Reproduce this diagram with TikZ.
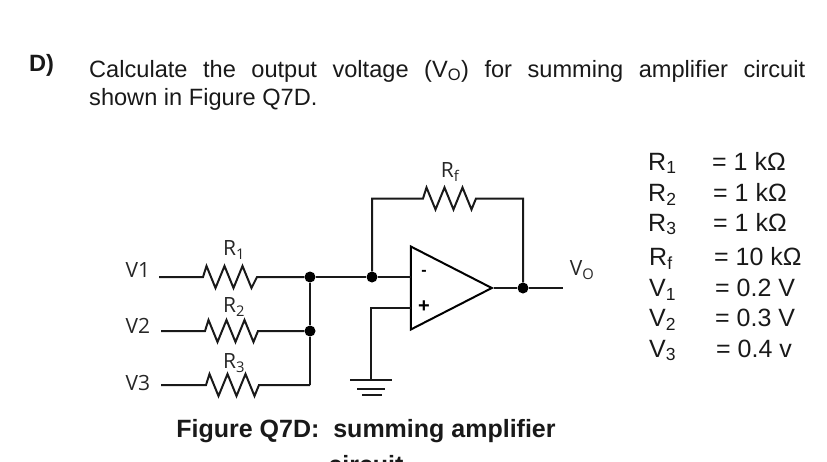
\documentclass[tikz,border=0pt]{standalone}
\usepackage{fontspec}
\setmainfont{Liberation Sans}
\newfontfamily\lblfont{Open Sans}
\usetikzlibrary{shapes.geometric}
\tikzset{
  wire/.style={line width=2pt,black!90},
  thick wire/.style={line width=2.6pt,black!90},
  res/.style={wire,line join=miter,to path={-- ++(3.5,-11) -- ++(9,22) -- ++(9,-22) -- ++(9,22) -- ++(9,-22) -- ++(9,22) -- (\tikztotarget)}},
  dot/.style={circle,fill=black,inner sep=0pt,minimum size=11pt},
  lbl/.style={font=\lblfont\fontsize{21}{21}\selectfont,inner sep=0pt,text=black!85},
  txt/.style={font=\fontsize{23.6}{24}\selectfont,anchor=base west,inner sep=0pt,text=black!90},
  val/.style={font=\fontsize{25}{25}\selectfont,anchor=base west,inner sep=0pt,text=black!90},
  captxt/.style={font=\bfseries\fontsize{25}{25}\selectfont,anchor=base,inner sep=0pt,text=black!90},
  amp/.style={draw,line width=2pt,isosceles triangle,isosceles triangle apex angle=54.3,isosceles triangle stretches,minimum width=83pt,minimum height=81pt,inner sep=0pt,anchor=apex}
}
\begin{document}
\begin{tikzpicture}[x=1pt,y=-1pt]
\useasboundingbox (0,0) rectangle (827,461);
\clip (0,0) rectangle (827,461);
% question text
\node[txt,font=\bfseries\fontsize{23.6}{24}\selectfont] (qd) at (29,71) {D)};
\node[txt] (q1) at (89,77) {\makebox[716pt][s]{Calculate the output voltage (V\textsubscript{O}) for summing amplifier circuit}};
\node[txt] (q2) at (89,105) {shown in Figure Q7D.};
% op-amp
\node[amp] (op) at (494,288) {};
\coordinate (inm) at (411,277);
\coordinate (inp) at (411,308);
\coordinate (vout) at (563,288);
\node[font=\bfseries\fontsize{16}{16}\selectfont,inner sep=0pt] (minus) at (424,273) {-};
\node[font=\bfseries\fontsize{20}{20}\selectfont,inner sep=0pt] (plus) at (424,307) {+};
% junctions
\node[dot] (j1) at (310,277) {};
\node[dot] (j2) at (310,331) {};
\node[dot] (j3) at (372,277) {};
\node[dot] (j4) at (523,288) {};
\coordinate (j5) at (310,385);
% sources
\node[lbl] (v1) at (138,270) {V1};
\node[lbl] (v2) at (138,326) {V2};
\node[lbl] (v3) at (138,383) {V3};
\coordinate (s1) at (159,277);
\coordinate (s2) at (161,331);
\coordinate (s3) at (161,385);
\coordinate (r1a) at (203,277); \coordinate (r1b) at (257,277);
\coordinate (r2a) at (205,331); \coordinate (r2b) at (258,331);
\coordinate (r3a) at (206,385); \coordinate (r3b) at (259,385);
\draw[wire] (s1) -- (r1a) to[res] (r1b) -- (j1);
\draw[wire] (s2) -- (r2a) to[res] (r2b) -- (j2);
\draw[wire] (s3) -- (r3a) to[res] (r3b) -- (j5);
\draw[thick wire] (j1) -- (j2) -- (j5);
\draw[wire] (j1) -- (j3) -- (inm);
% feedback
\coordinate (fa) at (423,198.5); \coordinate (fb) at (476,198.5);
\coordinate (c1) at (372,198.5); \coordinate (c2) at (523,198.5);
\draw[wire] (j3) -- (c1) -- (fa) to[res] (fb) -- (c2) -- (j4);
\draw[wire] (op.apex) -- (j4) -- (vout);
% ground
\coordinate (gc) at (371,308); \coordinate (g0) at (371,380);
\coordinate (g1a) at (350,380); \coordinate (g1b) at (392,380);
\coordinate (g2a) at (357,389); \coordinate (g2b) at (385,389);
\coordinate (g3a) at (362,395); \coordinate (g3b) at (382,395);
\draw[wire] (inp) -- (gc) -- (g0);
\draw[wire] (g1a) -- (g1b);
\draw[thick wire] (g2a) -- (g2b);
\draw[wire] (g3a) -- (g3b);
% labels
\node[lbl] (lr1) at (234,250) {R\textsubscript{1}};
\node[lbl] (lr2) at (234,307) {R\textsubscript{2}};
\node[lbl] (lr3) at (234,363) {R\textsubscript{3}};
\node[lbl] (lrf) at (450,172) {R\textsubscript{f}};
\node[lbl] (lvo) at (582,270) {V\textsubscript{O}};
% values
\node[val] (t1) at (648,170) {R\textsubscript{1}};
\node[val] (t2) at (648,201.5) {R\textsubscript{2}};
\node[val] (t3) at (648,231) {R\textsubscript{3}};
\node[val] (t4) at (649,265) {R\textsubscript{f}};
\node[val] (t5) at (649,296.5) {V\textsubscript{1}};
\node[val] (t6) at (649,326.5) {V\textsubscript{2}};
\node[val] (t7) at (649,357) {V\textsubscript{3}};
\node[val] (e1) at (712,170) {= 1 kΩ};
\node[val] (e2) at (713,201.5) {= 1 kΩ};
\node[val] (e3) at (713,231) {= 1 kΩ};
\node[val] (e4) at (714,265) {= 10 kΩ};
\node[val] (e5) at (715,296.5) {= 0.2 V};
\node[val] (e6) at (715,326.5) {= 0.3 V};
\node[val] (e7) at (716,357) {= 0.4 v};
% caption
\node[captxt] (c1t) at (366,437) {Figure Q7D:\ \ summing amplifier};
\node[captxt] (c2t) at (366,473) {circuit};
\end{tikzpicture}
\end{document}
